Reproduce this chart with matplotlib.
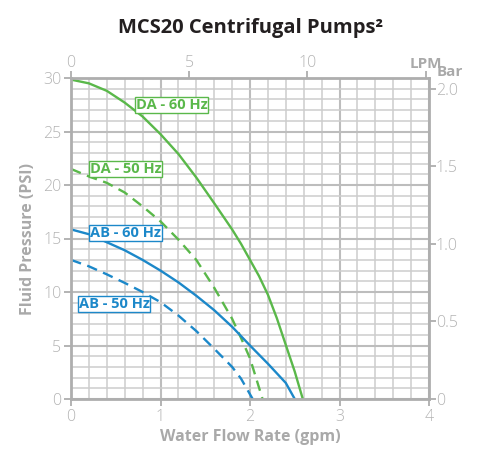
import matplotlib
matplotlib.use("Agg")
import matplotlib.pyplot as plt
from matplotlib.ticker import MultipleLocator

plt.rcParams['font.family'] = ['Open Sans', 'DejaVu Sans']

# ---- data (gpm, PSI) ----
da60_x = [0, 0.2, 0.4, 0.6, 0.8, 1.0, 1.2, 1.4, 1.6, 1.8, 1.9, 2.0, 2.1, 2.2, 2.3, 2.4, 2.5, 2.59]
da60_y = [29.85, 29.5, 28.8, 27.7, 26.4, 24.75, 22.9, 20.7, 18.3, 15.85, 14.5, 13.0, 11.5, 9.75, 7.55, 5.05, 2.56, 0]

da50_x = [0, 0.2, 0.4, 0.6, 0.8, 1.0, 1.2, 1.4, 1.6, 1.8, 1.9, 2.0, 2.14]
da50_y = [21.5, 20.8, 20.2, 19.3, 18.0, 16.6, 14.9, 13.0, 10.4, 7.5, 5.7, 3.8, 0]

ab60_x = [0, 0.2, 0.4, 0.6, 0.8, 1.0, 1.2, 1.4, 1.6, 1.8, 2.0, 2.2, 2.4, 2.5]
ab60_y = [15.85, 15.4, 14.65, 13.9, 13.0, 12.0, 10.9, 9.65, 8.3, 6.75, 5.0, 3.3, 1.5, 0]

ab50_x = [0, 0.2, 0.4, 0.6, 0.8, 1.0, 1.2, 1.4, 1.6, 1.8, 1.9, 2.03]
ab50_y = [13.0, 12.4, 11.65, 10.85, 10.0, 9.05, 7.8, 6.35, 4.7, 3.0, 1.9, 0]

series_labels = ["DA - 60 Hz", "DA - 50 Hz", "AB - 60 Hz", "AB - 50 Hz"]
label_pos = [(1.125, 27.5), (0.61, 21.5), (0.61, 15.5), (0.48, 8.9)]

x_ticks = [0, 1, 2, 3, 4]
y_ticks = [0, 5, 10, 15, 20, 25, 30]
lpm_ticks = [0, 5, 10, 15]
lpm_labels = ["0", "5", "10", "LPM"]
bar_ticks = [0, 0.5, 1.0, 1.5, 2.0]
bar_labels = ["0", "0.5", "1.0", "1.5", "2.0"]

GREEN = "#5ab84a"
BLUE = "#1c88c9"
TICKC = "#b4b4b4"
LABC = "#a9a9a9"
SPINE = "#aeaeae"

fig = plt.figure(figsize=(5.01, 4.67), dpi=100)
ax = fig.add_axes([71/501, 1-399/467, (429-71)/501, (399-78)/467])
ax.set_xlim(0, 4)
ax.set_ylim(0, 30)

ax.xaxis.set_minor_locator(MultipleLocator(0.2))
ax.yaxis.set_minor_locator(MultipleLocator(1))
ax.set_xticks(x_ticks)
ax.set_yticks(y_ticks)
ax.grid(which='minor', color='#cdcdcd', linewidth=1.1)
ax.grid(which='major', color='#bdbdbd', linewidth=1.5)
ax.set_axisbelow(True)
ax.tick_params(which='minor', length=0)
ax.tick_params(which='major', length=5, width=1.3, color=SPINE,
               labelcolor=TICKC, labelsize=11.5, pad=2)
for s in ax.spines.values():
    s.set_color(SPINE)
    s.set_linewidth(2)
for t in ax.get_xticklabels() + ax.get_yticklabels():
    t.set_fontweight('light')

dash = (0, (4.5, 2.8))
ax.plot(da60_x, da60_y, color=GREEN, lw=1.7)
ax.plot(da50_x, da50_y, color=GREEN, lw=1.7, linestyle=dash)
ax.plot(ab60_x, ab60_y, color=BLUE, lw=1.7)
ax.plot(ab50_x, ab50_y, color=BLUE, lw=1.7, linestyle=dash)

colors = [GREEN, GREEN, BLUE, BLUE]
for lab, (px, py), c in zip(series_labels, label_pos, colors):
    ax.text(px, py, lab, color=c, fontsize=10.5, fontweight='bold',
            ha='center', va='center', zorder=5,
            bbox=dict(boxstyle='square,pad=0.06', facecolor='white',
                      edgecolor=c, linewidth=1.0))

# top LPM axis
top = ax.secondary_xaxis('top', functions=(lambda g: g*3.785, lambda l: l/3.785))
top.set_xticks(lpm_ticks)
top.set_xticklabels(lpm_labels)
top.tick_params(length=5, width=1.3, color=SPINE, labelcolor=TICKC, labelsize=11.5, pad=0)
top.spines['top'].set_visible(False)
lbls = top.get_xticklabels()
for t in lbls:
    t.set_fontweight('light')
lbls[-1].set_fontweight('bold')
lbls[-1].set_color(LABC)
lbls[-1].set_fontsize(11)

# right Bar axis
right = ax.secondary_yaxis('right', functions=(lambda p: p/14.5038, lambda b: b*14.5038))
right.set_yticks(bar_ticks)
right.set_yticklabels(bar_labels)
right.tick_params(length=5, width=1.3, color=SPINE, labelcolor=TICKC, labelsize=11.5, pad=0)
right.spines['right'].set_visible(False)
for t in right.get_yticklabels():
    t.set_fontweight('light')

fig.text(450/501, 1-72/467, "Bar", color=LABC, fontsize=11, fontweight='bold',
         ha='center', va='center')

fig.text(250/501, 1-437/467, "Water Flow Rate (gpm)", color=LABC, fontsize=11.5,
         fontweight='bold', ha='center', va='center')
fig.text(28/501, 1-239/467, "Fluid Pressure (PSI)", color=LABC, fontsize=11.5,
         fontweight='bold', ha='center', va='center', rotation=90)

fig.text(251/501, 1-28/467, "MCS20 Centrifugal Pumps²", color="#231f20",
         fontsize=14.5, fontweight='bold', ha='center', va='center')

fig.savefig("out.png", dpi=100)
